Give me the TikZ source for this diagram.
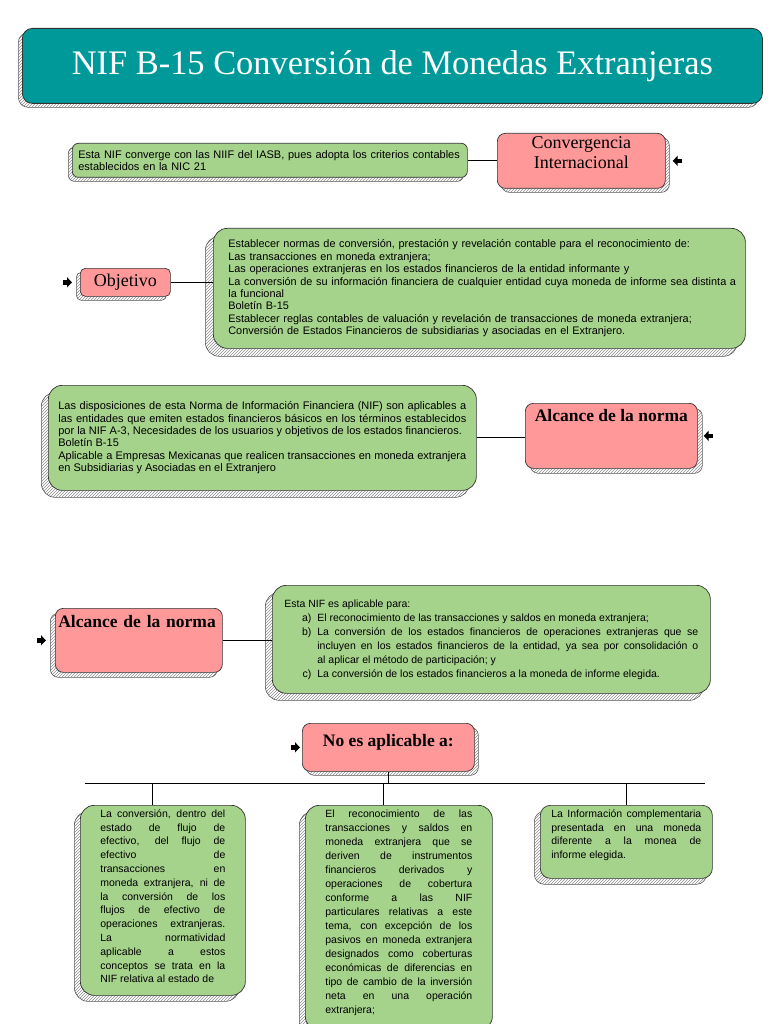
\documentclass[tikz,border=0pt]{standalone}
\usepackage{fontspec}
\setmainfont{Liberation Serif}
\newfontfamily\arialfont{Liberation Sans}
\usetikzlibrary{shadows,patterns,arrows.meta}
\definecolor{nifteal}{RGB}{0,153,153}
\definecolor{nifgreen}{RGB}{166,211,140}
\definecolor{nifpink}{RGB}{255,153,153}

\begin{document}
\begin{tikzpicture}[
  x=1pt, y=-1pt,
  hatchleft/.style={general shadow={shadow xshift=-#1, shadow yshift=-#1, draw=black!65, line width=0.6pt, pattern=north east lines, pattern color=black!45}},
  hatchright/.style={general shadow={shadow xshift=#1, shadow yshift=-#1, draw=black!65, line width=0.6pt, pattern=north east lines, pattern color=black!45}},
  textbox/.style={rectangle, rounded corners=14pt, draw=black!80, line width=0.7pt, fill=nifgreen, anchor=north west, font=\arialfont\fontsize{11}{12.4}\selectfont},
  lowbox/.style={textbox, hatchleft=6pt, align=justify, inner ysep=4pt, text height=8pt, font=\arialfont\fontsize{10.5}{13.8}\selectfont},
  headbox/.style={rectangle, rounded corners=8pt, draw=black!80, line width=0.7pt, fill=nifpink, anchor=north west, font=\fontsize{18}{20}\selectfont},
  boldhead/.style={headbox, font=\bfseries\fontsize{17.5}{20}\selectfont},
  link/.style={draw=black, line width=1pt},
  pointer/.style={line width=4.5pt, -{Triangle[length=5pt,width=10pt]}}
]
  \useasboundingbox (0,0) rectangle (768,1024);

  \node[rectangle, rounded corners=10pt, draw=black!80, line width=0.8pt, fill=nifteal, hatchleft=4pt, anchor=north west,
    minimum width=740pt, minimum height=75pt, text=white, font=\fontsize{34.4}{40}\selectfont] (title) at (22,28)
    {NIF B-15 Conversión de Monedas Extranjeras};

  \node[textbox, rounded corners=6pt, hatchleft=4pt, minimum width=395pt, minimum height=34pt, inner xsep=6pt,
    text width=383pt, align=left] (b1) at (72,143)
    {Esta NIF converge con las NIIF del IASB, pues adopta los criterios contables\\establecidos en la NIC 21};
  \node[headbox, hatchright=4pt, minimum width=168pt, inner ysep=3pt, text width=160pt, align=center,
    text height=12pt, text depth=37pt] (conv) at (497,133)
    {Convergencia\\Internacional};
  \draw[link] (b1.east) -- (b1.east -| conv.west);
  \draw[pointer] ([xshift=16pt]conv.east) -- ([xshift=7pt]conv.east);

  \node[headbox, rounded corners=5pt, hatchleft=4pt, minimum width=90pt, minimum height=28pt] (obj) at (80,268) {Objetivo};
  \node[textbox, hatchleft=8pt, minimum width=532pt, minimum height=120pt, inner xsep=15pt, text width=502pt, align=left,
    font=\arialfont\fontsize{10.9}{12.4}\selectfont] (b2) at (213,228)
    {Establecer normas de conversión, prestación y revelación contable para el reconocimiento de:\\
     Las transacciones en moneda extranjera;\\
     Las operaciones extranjeras en los estados financieros de la entidad informante y\\
     \mbox{La conversión de su información financiera de cualquier entidad cuya moneda de informe sea distinta a}\\
     la funcional\\
     Boletín B-15\\
     Establecer reglas contables de valuación y revelación de transacciones de moneda extranjera;\\
     Conversión de Estados Financieros de subsidiarias y asociadas en el Extranjero.};
  \draw[link] (obj.east) -- (obj.east -| b2.west);
  \draw[pointer] ([xshift=-17pt]obj.west) -- ([xshift=-8pt]obj.west);

  \node[textbox, hatchleft=7pt, minimum width=428pt, minimum height=105pt, inner xsep=10pt, text width=408pt, align=justify] (b3) at (48,385)
    {Las disposiciones de esta Norma de Información Financiera (NIF) son aplicables a\linebreak
     las entidades que emiten estados financieros básicos en los términos establecidos\linebreak
     por la NIF A-3, Necesidades de los usuarios y objetivos de los estados financieros.\par
     Boletín B-15\par
     Aplicable a Empresas Mexicanas que realicen transacciones en moneda extranjera\linebreak
     en Subsidiarias y Asociadas en el Extranjero};
  \node[boldhead, hatchright=5pt, minimum width=172pt, inner ysep=6pt, text height=12pt, text depth=41pt] (alc1) at (525,403)
    {Alcance de la norma};
  \draw[link] (b3.east) -- (b3.east -| alc1.west);
  \draw[pointer] ([xshift=15pt]alc1.east) -- ([xshift=6pt]alc1.east);

  \node[boldhead, hatchleft=5pt, minimum width=167pt, inner xsep=3pt, inner ysep=6pt, text width=161pt, align=left,
    text height=13pt, text depth=39pt] (alc2) at (55,608)
    {Alcance de la norma};
  \node[textbox, hatchleft=7pt, minimum width=438pt, minimum height=108pt, inner xsep=12pt, text width=414pt, align=justify,
    font=\arialfont\fontsize{10.5}{14}\selectfont] (b4) at (272,585)
    {Esta NIF es aplicable para:\par
     \hangindent=33pt\hangafter=0\noindent\llap{a)\hspace{6pt}}El reconocimiento de las transacciones y saldos en moneda extranjera;\par
     \hangindent=33pt\hangafter=0\noindent\llap{b)\hspace{6pt}}La conversión de los estados financieros de operaciones extranjeras que se\linebreak
     incluyen en los estados financieros de la entidad, ya sea por consolidación o\linebreak
     al aplicar el método de participación; y\par
     \hangindent=33pt\hangafter=0\noindent\llap{c)\hspace{6pt}}La conversión de los estados financieros a la moneda de informe elegida.\par};
  \draw[link] (alc2.east) -- (alc2.east -| b4.west);
  \draw[pointer] ([xshift=-18pt]alc2.west) -- ([xshift=-9pt]alc2.west);

  \node[boldhead, hatchright=4pt, minimum width=172pt, inner ysep=6pt, text height=17pt, text depth=19pt] (noes) at (302,723)
    {No es aplicable a:};
  \draw[pointer] ([xshift=-11pt]noes.west) -- ([xshift=-2pt]noes.west);

  \node[lowbox, minimum width=165pt, inner xsep=20pt, text width=125pt, text depth=174pt] (b5) at (80,805)
    {La conversión, dentro del\linebreak estado de flujo de\linebreak efectivo, del flujo de\linebreak
     efectivo de\linebreak transacciones en\linebreak moneda extranjera, ni de\linebreak
     la conversión de los\linebreak flujos de efectivo de\linebreak operaciones extranjeras.\linebreak
     La normatividad\linebreak aplicable a estos\linebreak conceptos se trata en la\linebreak
     NIF relativa al estado de};
  \node[lowbox, minimum width=187pt, inner xsep=20pt, text width=147pt, text depth=209pt,
    font=\arialfont\fontsize{10.5}{14}\selectfont] (b6) at (305,805)
    {El reconocimiento de las\linebreak transacciones y saldos en\linebreak moneda extranjera que se\linebreak
     deriven de instrumentos\linebreak financieros derivados y\linebreak operaciones de cobertura\linebreak
     conforme a las NIF\linebreak particulares relativas a este\linebreak tema, con excepción de los\linebreak
     pasivos en moneda extranjera\linebreak designados como coberturas\linebreak económicas de diferencias en\linebreak
     tipo de cambio de la inversión\linebreak neta en una operación\linebreak extranjera;};
  \node[lowbox, rounded corners=10pt, minimum width=172pt, inner xsep=11pt, text width=150pt, text depth=57pt] (b7) at (540,805)
    {La Información complementaria\linebreak presentada en una moneda\linebreak diferente a la monea de\linebreak informe elegida.};

  \coordinate (barL) at (85,783);
  \coordinate (barR) at (705,783);
  \coordinate (d1) at (152,783);
  \coordinate (d2) at (383,783);
  \coordinate (d3) at (626,783);
  \draw[link] (barL) -- (barR);
  \draw[link] (noes.south) -- (noes.south |- barL);
  \draw[link] (d1) -- (d1 |- b5.north);
  \draw[link] (d2) -- (d2 |- b6.north);
  \draw[link] (d3) -- (d3 |- b7.north);
\end{tikzpicture}
\end{document}
